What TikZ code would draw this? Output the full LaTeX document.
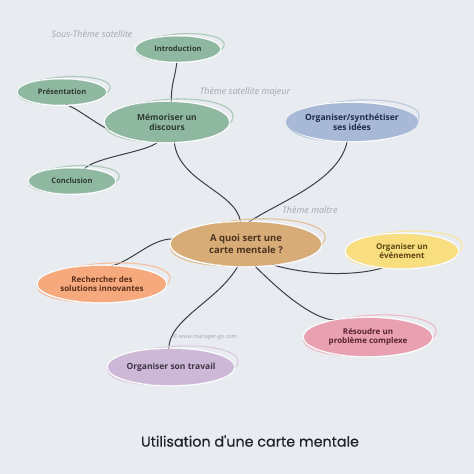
\documentclass[tikz,border=0pt]{standalone}
\usepackage{fontspec}
\setmainfont{Open Sans}
\newfontfamily\titlefont{Poppins}[FakeBold=0.5]
\usetikzlibrary{shapes.geometric}
\definecolor{bgc}{HTML}{E8EBEF}
\definecolor{gfill}{HTML}{8FB8A1}
\definecolor{gtext}{HTML}{2E3A33}
\definecolor{bfill}{HTML}{A7B9D6}
\definecolor{btext}{HTML}{1F2C48}
\definecolor{tfill}{HTML}{D8AC76}
\definecolor{ttext}{HTML}{4B3420}
\definecolor{yfill}{HTML}{F8DE7E}
\definecolor{ytext}{HTML}{5B4614}
\definecolor{ofill}{HTML}{F5A97C}
\definecolor{otext}{HTML}{5A2E1A}
\definecolor{pfill}{HTML}{E9A1B2}
\definecolor{ptext}{HTML}{5A2232}
\definecolor{vfill}{HTML}{CDB9D7}
\definecolor{vtext}{HTML}{3F3446}
\definecolor{lbl}{HTML}{A3A8AF}
\definecolor{conc}{HTML}{3A3F47}
\definecolor{ttl}{HTML}{1F2328}
\pgfdeclarelayer{back}
\pgfdeclarelayer{conn}
\pgfsetlayers{back,conn,main}
\tikzset{
  bubble/.style={ellipse, inner sep=0pt, align=center},
  link/.style={conc, line width=1pt, line cap=round},
  tag/.style={lbl, font=\itshape\fontsize{9}{11}\selectfont},
}
% name, x, y, w, h, fill, text colour, font size, text
\newcommand\bub[9]{%
  \draw[#6!75!white, line width=1.1pt, rotate around={4:(#2,#3)}] (#2+2,#3-1.5) ellipse [x radius=#4/2+2.5, y radius=#5/2+1];
  \draw[white, line width=0.9pt] (#2,#3) ellipse [x radius=#4/2+1, y radius=#5/2+1];
  \node[bubble, fill=#6, minimum width=#4, minimum height=#5, text=#7,
        font=\bfseries\fontsize{#8}{1.22\dimexpr #8pt\relax}\selectfont] (#1) at (#2,#3) {#9};
}
\begin{document}
\begin{tikzpicture}[x=1pt, y=-1pt]
\begin{pgfonlayer}{back}
\fill[bgc] (0,0) rectangle (474,474);
\end{pgfonlayer}
\useasboundingbox (0,0) rectangle (474,474);

\bub{intro}{178}{49}{84}{25}{gfill}{gtext}{7.5}{Introduction}
\bub{pres}{62}{92}{88}{25}{gfill}{gtext}{7.5}{Présentation}
\bub{mem}{167}{122}{124}{40}{gfill}{gtext}{8.5}{Mémoriser un\\discours}
\bub{concl}{72}{181}{86}{25}{gfill}{gtext}{7.5}{Conclusion}
\bub{org}{352}{122}{126}{38}{bfill}{btext}{8.5}{Organiser/synthétiser\\ses idées}
\bub{center}{246}{244}{150}{44}{tfill}{ttext}{9.5}{A quoi sert une\\carte mentale ?}
\bub{evt}{402}{251}{112}{34}{yfill}{ytext}{8}{Organiser un\\événement}
\bub{rech}{102}{284}{128}{36}{ofill}{otext}{8}{Rechercher des\\solutions innovantes}
\bub{res}{368}{337}{128}{38}{pfill}{ptext}{8}{Résoudre un\\problème complexe}
\bub{trav}{171}{367}{126}{36}{vfill}{vtext}{8.5}{Organiser son travail}

\begin{pgfonlayer}{conn}
\draw[link] (intro.265) .. controls +(-2,18) and +(0,-20) .. (mem.78);
\draw[link] (pres.-72) .. controls +(12,4) and +(-14,-6) .. (mem.188);
\draw[link] (concl.45) .. controls +(12,-12) and +(-10,10) .. (mem.245);
\draw[link] (mem.290) .. controls +(4,40) and +(-4,-30) .. (center.104);
\draw[link] (org.256) .. controls +(-8,40) and +(30,-20) .. (center.82);
\draw[link] (center.176) .. controls +(-22,0) and +(22,-6) .. (rech.62);
\draw[link] (center.250) .. controls +(-20,35) and +(0,-30) .. (trav.97);
\draw[link] (center.292) .. controls +(20,20) and +(-25,0) .. (res.152);
\draw[link] (center.322) .. controls +(40,12) and +(-22,8) .. (evt.222);
\end{pgfonlayer}

\node[tag] (t1) at (92,34) {Sous-Thème satellite};
\node[tag] (t2) at (245,92) {Thème satellite majeur};
\node[tag] (t3) at (310,210) {Thème maître};
\node[lbl, font=\fontsize{5.5}{6}\selectfont] (cp) at (205,337) {© www.manager-go.com};
\node[ttl, font=\titlefont\fontsize{14.3}{17}\selectfont] (title) at (250,441) {Utilisation d'une carte mentale};
\end{tikzpicture}
\end{document}
